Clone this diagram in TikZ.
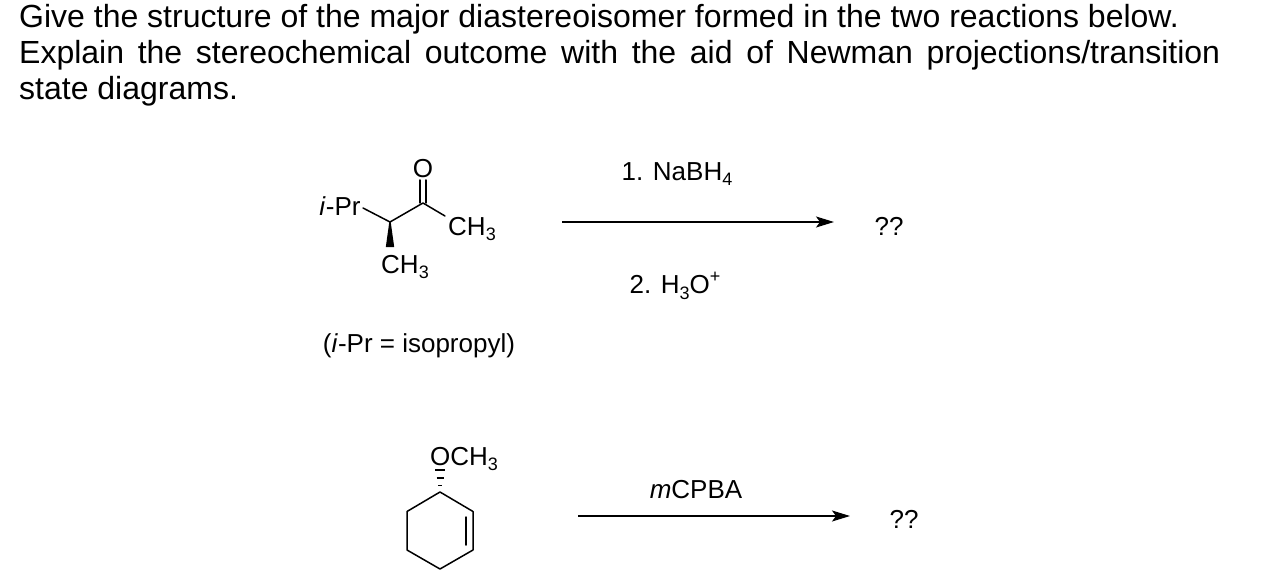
\documentclass[tikz,border=0pt]{standalone}
\usepackage{fontspec}
\setmainfont{Liberation Sans}
\usetikzlibrary{arrows.meta,calc}
\tikzset{
  lbl/.style={inner sep=0pt,font=\fontsize{26}{30}\selectfont,text=black},
  bond/.style={line width=1.5pt,line cap=round,line join=round},
  rxn/.style={line width=1.4pt,-{Stealth[length=18pt,width=11pt,inset=4pt]}}
}
\newcommand{\sbb}[1]{\raisebox{-0.22em}{\fontsize{18}{20}\selectfont #1}}
\newcommand{\spp}[1]{\raisebox{0.42em}{\fontsize{18}{20}\selectfont #1}}
\begin{document}
\begin{tikzpicture}[x=1pt,y=-1pt]
\useasboundingbox (0,0) rectangle (1266,588);
\fill[white] (0,0) rectangle (1266,588);
\node[anchor=north west,inner sep=0pt,align=left,font=\fontsize{32}{36}\selectfont] (q) at (19,4) {Give the structure of the major diastereoisomer formed in the two reactions below.\\
\makebox[1201pt][s]{Explain the stereochemical outcome with the aid of Newman projections/transition}\\
state diagrams.};
% ketone
\coordinate (cstar) at (390,222);
\coordinate (cco) at (423,203);
\coordinate (ipr) at (363,208);
\coordinate (me) at (445,216);
\coordinate (wedge) at (390,247);
\coordinate (o1) at (420,203);
\coordinate (o1e) at (420,180);
\coordinate (o2) at (426,203);
\coordinate (o2e) at (426,180);
\node[lbl] (O) at (423,169) {O};
\node[lbl] (iPr) at (340,206) {\textit{i}-Pr};
\node[lbl] (CH3a) at (472,229) {CH\sbb{3}};
\node[lbl] (CH3b) at (405,267) {CH\sbb{3}};
\draw[bond] (ipr) -- (cstar) -- (cco) -- (me);
\draw[bond] (o1) -- (o1e) (o2) -- (o2e);
\fill ($(cstar)+(-0.7,0)$) -- ($(wedge)+(-4.2,0)$) -- ($(wedge)+(4.2,0)$) -- ($(cstar)+(0.7,0)$) -- cycle;
\node[lbl] (note) at (419,346) {(\textit{i}-Pr = isopropyl)};
% arrow 1
\coordinate (a1s) at (562,222);
\coordinate (a1e) at (834,222);
\draw[rxn] (a1s) -- (a1e);
\node[lbl] (r1) at (677,174) {1. NaBH\sbb{4}};
\node[lbl] (r2) at (675,286) {2. H\sbb{3}O\spp{+}};
\node[lbl] (q1) at (889,226) {??};
% cyclohexene
\coordinate (r1c) at (440,492);
\coordinate (r2c) at (473,511.5);
\coordinate (r3c) at (473,550);
\coordinate (r4c) at (440,569);
\coordinate (r5c) at (407,550);
\coordinate (r6c) at (407,511.5);
\coordinate (d1) at (466,517);
\coordinate (d2) at (466,545);
\draw[bond] (r1c) -- (r2c) -- (r3c) -- (r4c) -- (r5c) -- (r6c) -- cycle;
\draw[bond] (d1) -- (d2);
\node[lbl] (OMe) at (464,459) {OCH\sbb{3}};
\foreach \yy/\w in {470/5,478/3.5,485.5/2}
  \draw[line width=1.6pt] (440-\w,\yy) -- (440+\w,\yy);
% arrow 2
\coordinate (a2s) at (578,516);
\coordinate (a2e) at (850,516);
\draw[rxn] (a2s) -- (a2e);
\node[lbl] (r3) at (696,490) {\textit{m}CPBA};
\node[lbl] (q2) at (904,519) {??};
\end{tikzpicture}
\end{document}
